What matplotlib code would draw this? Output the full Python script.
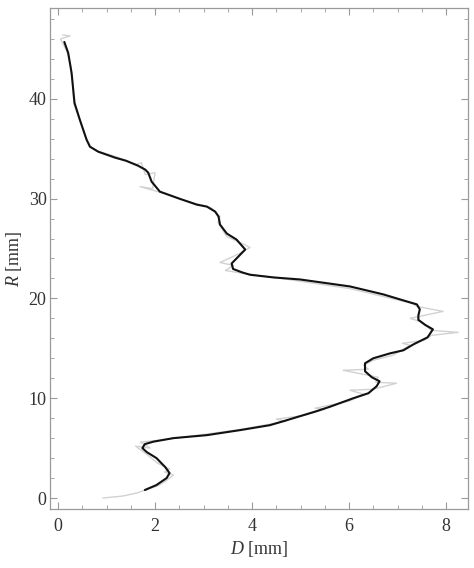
import matplotlib
matplotlib.use("Agg")
import matplotlib.pyplot as plt
from matplotlib.ticker import MultipleLocator

plt.rcParams['font.family'] = ['Liberation Serif', 'DejaVu Serif']
plt.rcParams['mathtext.fontset'] = 'custom'
plt.rcParams['mathtext.it'] = 'Liberation Serif:italic'
plt.rcParams['mathtext.rm'] = 'Liberation Serif'

# Smoothed profile (black)
smooth_D = [1.79, 2.03, 2.24, 2.30, 2.21, 2.03, 1.83, 1.74, 1.79, 1.97, 2.38, 3.07, 3.75, 4.37,
            4.72, 5.33, 5.61, 6.09, 6.40, 6.57, 6.63, 6.47, 6.33, 6.33, 6.50, 6.85, 7.12,
            7.33, 7.62, 7.73, 7.57, 7.43, 7.43, 7.46, 7.40, 7.19, 6.71, 6.02, 4.99, 4.45,
            3.96, 3.80, 3.61, 3.58, 3.72, 3.86, 3.68, 3.48, 3.34, 3.31, 3.24, 3.07, 2.86,
            2.50, 2.10, 1.93, 1.86, 1.80, 1.65, 1.40, 1.18, 0.83, 0.66, 0.59, 0.45, 0.34,
            0.28, 0.21, 0.13]
smooth_R = [0.8, 1.3, 2.0, 2.5, 3.1, 4.0, 4.6, 5.0, 5.4, 5.65, 6.0, 6.3, 6.8, 7.3,
            7.8, 8.7, 9.15, 10.0, 10.5, 11.2, 11.7, 12.1, 12.7, 13.5, 14.0, 14.5, 14.8,
            15.4, 16.1, 16.9, 17.35, 17.85, 18.3, 18.9, 19.4, 19.7, 20.4, 21.2, 21.9, 22.1,
            22.37, 22.6, 22.95, 23.5, 24.2, 24.9, 25.9, 26.5, 27.4, 28.2, 28.7, 29.2, 29.4,
            30.0, 30.7, 31.7, 32.6, 32.9, 33.3, 33.8, 34.1, 34.7, 35.2, 35.9, 37.9, 39.6,
            42.6, 44.6, 45.7]

# Raw measured profile (gray)
raw_D = [0.93, 1.34, 1.62, 1.80, 2.05, 2.22, 2.38, 2.20, 2.30, 2.05, 1.85, 1.60, 1.90, 1.70,
         2.10, 2.90, 3.80, 4.70, 4.50, 5.10, 5.50, 5.30, 6.00, 6.30, 6.02, 6.50, 6.98, 6.55,
         6.60, 5.88, 6.40, 6.30, 6.50, 6.90, 7.26, 7.10, 7.55, 7.70, 8.25, 7.70, 7.60, 7.46,
         7.26, 7.45, 7.94, 7.40, 7.30, 6.70, 6.00, 5.30, 4.60, 3.70, 3.45, 3.62, 3.34, 3.70,
         3.96, 3.80, 3.48, 3.40, 3.30, 3.34, 3.15, 2.55, 2.20, 1.69, 1.95, 2.00, 1.80, 1.72,
         1.60, 1.20, 0.80, 0.65, 0.56, 0.45, 0.33, 0.30, 0.25, 0.18, 0.05, 0.25, 0.10]
raw_R = [0.0, 0.2, 0.5, 0.8, 1.2, 1.7, 2.3, 2.6, 2.9, 3.5, 4.3, 5.2, 5.0, 5.6,
         5.8, 6.3, 6.9, 7.7, 7.9, 8.3, 8.9, 9.0, 9.7, 10.4, 10.8, 10.9, 11.5, 11.6,
         12.1, 12.8, 12.9, 13.3, 13.8, 14.3, 15.3, 15.5, 15.8, 16.3, 16.6, 16.8, 17.2, 17.7,
         18.0, 18.2, 18.7, 19.2, 19.5, 20.2, 21.0, 21.5, 22.0, 22.6, 22.8, 23.3, 23.6, 24.4,
         25.1, 25.5, 26.2, 26.8, 27.6, 28.2, 29.1, 29.9, 30.5, 31.2, 31.0, 32.6, 32.4, 33.6,
         33.4, 34.2, 34.8, 35.2, 36.2, 37.9, 39.4, 41.6, 43.6, 44.8, 46.0, 46.3, 46.4]

fig = plt.figure(figsize=(4.74, 5.68), dpi=100)
ax = fig.add_axes([0.1055, 0.1039, 0.8815, 0.882])

ax.plot(raw_D, raw_R, color='#d2d2d2', lw=1.0, zorder=1)
ax.plot(smooth_D, smooth_R, color='#111111', lw=1.5, zorder=2,
        solid_joinstyle='round', solid_capstyle='round')

ax.set_xlim(-0.165, 8.45)
ax.set_ylim(-1.1, 49.1)
ax.xaxis.set_major_locator(MultipleLocator(2))
ax.xaxis.set_minor_locator(MultipleLocator(0.5))
ax.yaxis.set_major_locator(MultipleLocator(10))
ax.yaxis.set_minor_locator(MultipleLocator(2))

for s in ax.spines.values():
    s.set_color('#9a9a9a')
    s.set_linewidth(0.9)
ax.tick_params(which='both', direction='in', top=True, right=True, color='#9a9a9a',
               labelsize=13, labelcolor='#333333')
ax.tick_params(which='major', length=5, width=0.8)
ax.tick_params(which='minor', length=2.8, width=0.6)
ax.tick_params(axis='x', which='major', pad=6.5)
ax.tick_params(axis='y', which='major', pad=2.5)

ax.set_xlabel(r'$\mathit{D}$ [mm]', fontsize=13, color='#333333', labelpad=3)
ax.set_ylabel(r'$\mathit{R}$ [mm]', fontsize=13, color='#333333', labelpad=3)

fig.savefig('out.png', dpi=100)
